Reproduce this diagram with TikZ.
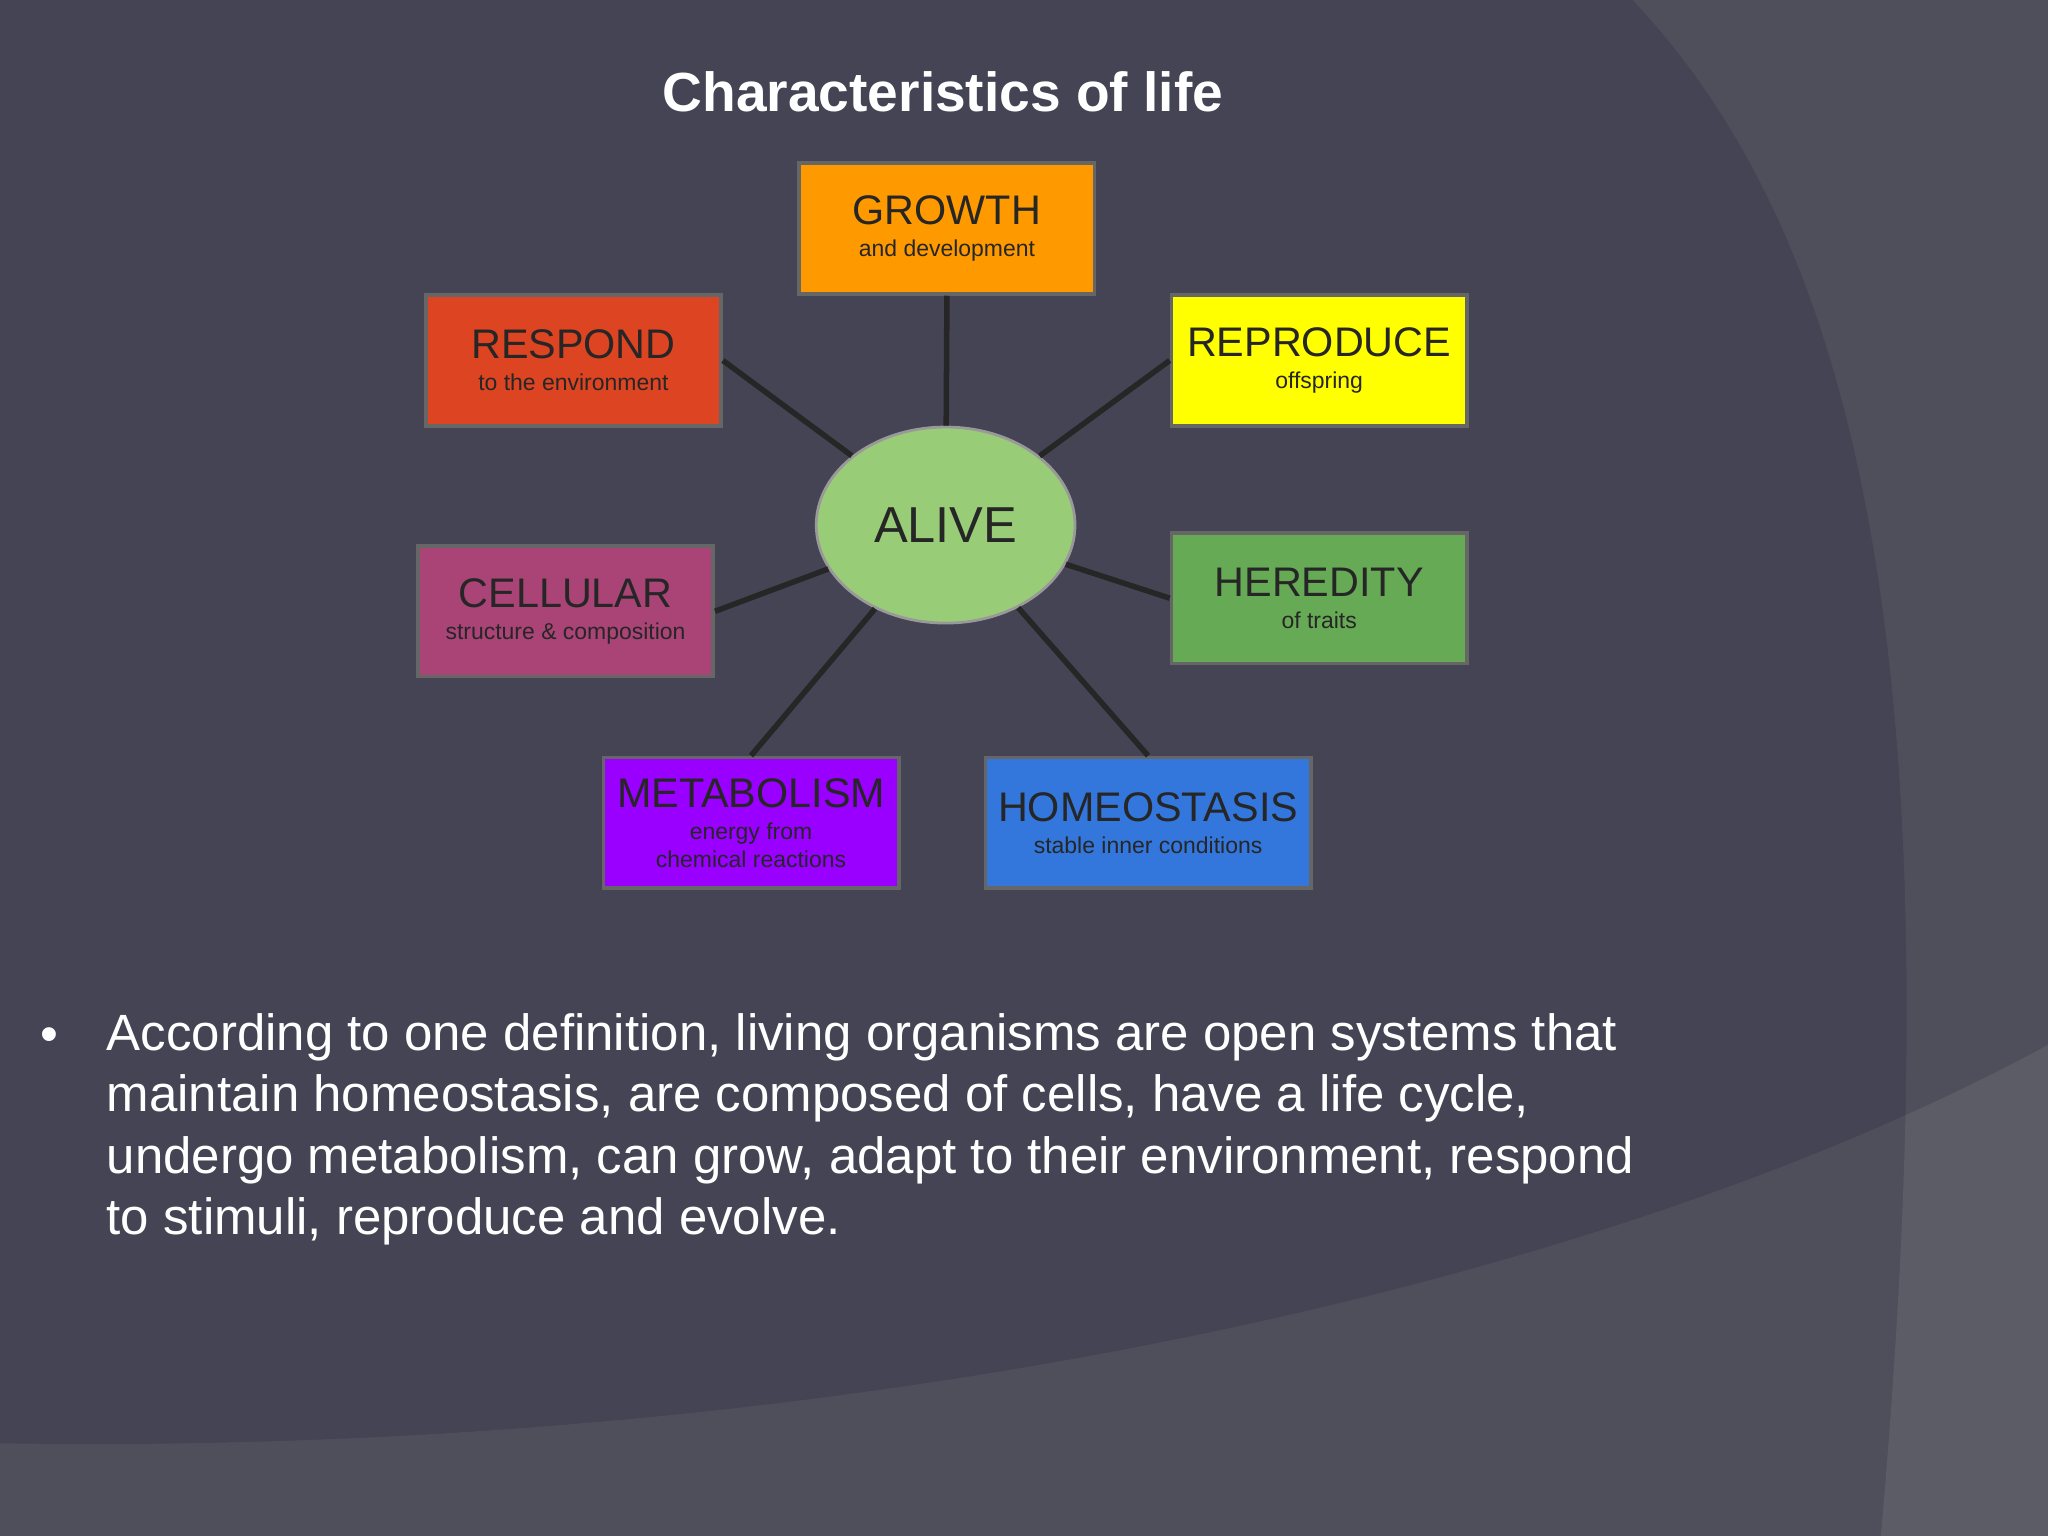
\documentclass[tikz,border=0pt]{standalone}
\usepackage{fontspec}
\setmainfont{Liberation Sans}
\usetikzlibrary{shapes.geometric}
\definecolor{bg}{HTML}{444454}
\definecolor{bgl}{HTML}{4F4F5C}
\definecolor{bgll}{HTML}{5C5C66}
\definecolor{cgrow}{HTML}{FF9900}
\definecolor{cresp}{HTML}{DD4422}
\definecolor{crepr}{HTML}{FFFF00}
\definecolor{ccell}{HTML}{AA4477}
\definecolor{chered}{HTML}{66AA55}
\definecolor{cmetab}{HTML}{9900FF}
\definecolor{chomeo}{HTML}{3377DD}
\definecolor{calive}{HTML}{99CC77}
\begin{document}
\begin{tikzpicture}[x=0.01cm,y=-0.01cm,
  box/.style={draw=black!60,line width=0.8pt,inner sep=0pt,align=center,text=black!85,minimum width=2.26cm,minimum height=1cm,font=\fontsize{5}{6}\selectfont},
  link/.style={draw=black!85,line width=1.2pt}]
\fill[bg] (0,0) rectangle (1568,1176);
\fill[bgl] (1250,0) .. controls (1420,180) and (1500,500) .. (1440,1176) -- (1568,1176) -- (1568,0) -- cycle;
\fill[bgl] (0,1105) .. controls (600,1115) and (1200,1000) .. (1568,800) -- (1568,1176) -- (0,1176) -- cycle;
\begin{scope}
\clip (1250,0) .. controls (1420,180) and (1500,500) .. (1440,1176) -- (1568,1176) -- (1568,0) -- cycle;
\fill[bgll] (0,1105) .. controls (600,1115) and (1200,1000) .. (1568,800) -- (1568,1176) -- (0,1176) -- cycle;
\end{scope}
\node[text=white,font=\bfseries\fontsize{12}{14}\selectfont] (title) at (722,70) {Characteristics of life};
\newcommand{\bt}[2]{{\fontsize{9}{9}\selectfont #1}\\[1pt]#2}
\node[box,fill=cgrow] at (725,175) (growth) {\bt{GROWTH}{and development}};
\node[box,fill=cresp] at (439,276) (respond) {\bt{RESPOND}{to the environment}};
\node[box,fill=crepr] at (1010,276) (repro) {\bt{REPRODUCE}{offspring}};
\node[box,fill=ccell] at (433,468) (cell) {\bt{CELLULAR}{structure \& composition}};
\node[box,fill=chered] at (1010,458) (hered) {\bt{HEREDITY}{of traits}};
\node[box,fill=cmetab] at (575,630) (metab) {\bt{METABOLISM}{energy from}\\chemical reactions};
\node[box,minimum width=2.49cm,fill=chomeo] at (879,630) (homeo) {\bt{HOMEOSTASIS}{stable inner conditions}};
\node[ellipse,draw=black!40,line width=0.6pt,fill=calive,minimum width=1.98cm,minimum height=1.5cm,inner sep=0pt,text=black!85,font=\fontsize{11}{12}\selectfont] at (724,402) (alive) {ALIVE};
\draw[link] (alive) -- (growth.south);
\draw[link] (alive) -- (respond.east);
\draw[link] (alive) -- (repro.west);
\draw[link] (alive) -- (cell.east);
\draw[link] (alive) -- (hered.west);
\draw[link] (alive) -- (metab.north);
\draw[link] (alive) -- (homeo.north);
\node[text=white,font=\fontsize{11.1}{13.4}\selectfont] at (38,796) (bul) {•};
\node[text=white,anchor=north west,align=left,inner sep=0pt,font=\fontsize{11.1}{13.4}\selectfont] at (81,775) (para) {According to one definition, living organisms are open systems that\\maintain homeostasis, are composed of cells, have a life cycle,\\undergo metabolism, can grow, adapt to their environment, respond\\to stimuli, reproduce and evolve.};
\end{tikzpicture}
\end{document}
